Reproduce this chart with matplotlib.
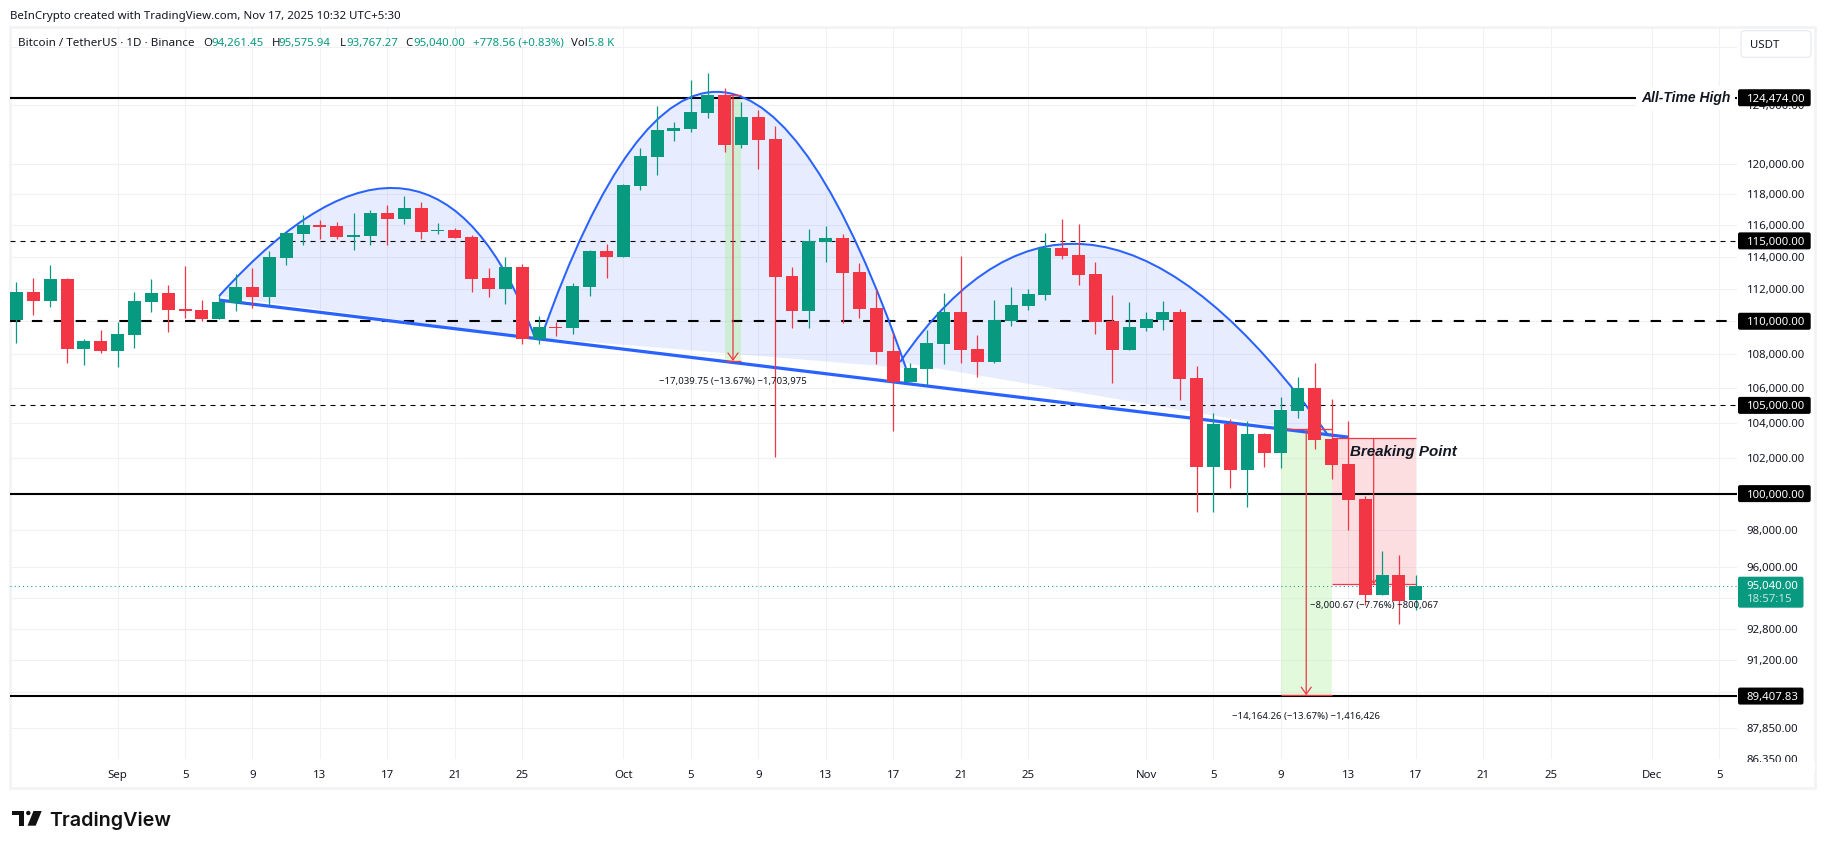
import numpy as np
import matplotlib
matplotlib.use('Agg')
import matplotlib.pyplot as plt
from matplotlib.patches import FancyBboxPatch, PathPatch, Polygon, Circle, Rectangle
from matplotlib.path import Path
from matplotlib.ticker import NullLocator
from matplotlib.transforms import IdentityTransform

plt.rcParams['font.family'] = ['Noto Sans', 'DejaVu Sans']

# days are counted from Sep 1, first candle is Aug 26
days = np.arange(-6, 78)
opens = [110076, 111793, 111255, 112600, 108325, 108803, 108205, 109162, 111174, 111731,
         110747, 110686, 110137, 111113, 112104, 111483, 113915, 115434, 116013, 115949,
         115244, 115307, 116786, 116400, 117109, 115625, 115689, 115244, 112662, 111979,
         113345, 108923, 109649, 109587, 112104, 114358, 113978, 118543, 120459, 122201,
         122337, 123427, 124660, 121262, 123132, 121663, 112786, 110625, 114928, 115181,
         113035, 110808, 108205, 106365, 107130, 108624, 110564, 108325, 107547, 110015,
         110930, 111607, 114547, 114104, 112911, 110015, 108265, 109587, 110076, 110564,
         106601, 101476, 103922, 101310, 103346, 102270, 104672, 106012, 103063, 101647,
         99697, 94543, 95595, 94261.45]
highs = [112414, 112683, 113470, 112683, 108923, 109465, 109954, 111793, 112600, 112228,
         113408, 111296, 111607, 112911, 113283, 114358, 115497, 116657, 116335, 116206,
         116786, 116980, 117302, 117887, 117495, 116142, 115816, 115370, 113283, 113978,
         113533, 110320, 109954, 112352, 114421, 114800, 118675, 121061, 123904, 122814,
         125701, 126187, 125146, 124177, 123632, 122542, 113345, 115755, 115949, 115434,
         113598, 111979, 109282, 107487, 109465, 111731, 114041, 109162, 111296, 112104,
         111979, 115497, 116400, 116077, 113661, 111607, 111174, 110564, 111235, 110747,
         107307, 104556, 104210, 104095, 103403, 105484, 106659, 107487, 105365, 104095,
         99864, 96874, 96660, 95575.94]
lows = [108704, 110380, 110869, 107507, 107387, 108105, 107267, 108404, 110564, 109343,
        110198, 110015, 110137, 110625, 110808, 110991, 113470, 114738, 115117, 115117,
        114421, 114738, 114738, 116077, 115117, 115434, 115181, 111793, 111483, 111052,
        108624, 108624, 109102, 109222, 111545, 112662, 113978, 118281, 119266, 121529,
        122133, 123086, 120822, 121061, 119660, 102043, 109587, 109587, 113661, 109892,
        110198, 107427, 103519, 106365, 106189, 107427, 107487, 106659, 107487, 109709,
        110686, 111296, 113851, 112228, 109222, 106306, 108265, 109404, 109465, 105306,
        98986, 98986, 100308, 99259, 101476, 101421, 104268, 102496, 100809, 98003,
        94022, 94543, 93040, 93767.27]
closes = [111793, 111255, 112600, 108325, 108803, 108205, 109222, 111235, 111731, 110686,
          110625, 110137, 111174, 112104, 111483, 113978, 115497, 116013, 115884, 115244,
          115370, 116786, 116400, 117109, 115561, 115689, 115181, 112600, 111979, 113345,
          108923, 109649, 109587, 112166, 114358, 113978, 118609, 120526, 122269, 122405,
          123495, 124660, 121262, 123132, 121596, 112724, 110625, 114991, 115181, 112973,
          110747, 108145, 106365, 107189, 108684, 110564, 108265, 107547, 110076, 110991,
          111669, 114547, 114041, 112849, 109954, 108265, 109649, 110137, 110564, 106542,
          101476, 103922, 101310, 103346, 102270, 104729, 106012, 103006, 101590, 99641,
          94543, 95595, 94228, 95040.00]

# level lines
ath_level = 124474.00
level_115 = 115000.00
level_110 = 110000.00
level_105 = 105000.00
level_100 = 100000.00
level_target = 89407.83
last_price = 95040.00

# quadratic curves of the pattern: (day, price) for start, control, end
curve_left = [(6.02, 111545), (18.65, 127060), (24.76, 108982)]
curve_head = [(25.11, 108982), (35.73, 144256), (46.76, 107189)]
curve_right = [(46.41, 107547), (57.32, 124777), (71.79, 103288)]
neckline_days = [6.02, 72.98]
neckline_prices = [111296, 103174]

# price range tools: start day, end day, top, bottom, label
box_green1 = (36, 37, 124650, 107610, '\u221217,039.75 (\u221213.67%) \u22121,703,975')
box_green2 = (69, 72, 103616, 89452, '\u221214,164.26 (\u221213.67%) \u22121,416,426')
box_red = (72, 77, 103100, 95100, '\u22128,000.67 (\u22127.76%) \u2212800,067')

grid_prices = [128000, 124000, 120000, 118000, 116000, 114000, 112000, 110000, 108000,
               106000, 104000, 102000, 100000, 98000, 96000, 94400, 92800, 91200, 89600,
               87850, 86350]
hidden_prices = [128000, 110000, 100000, 94400, 89600]
tick_days = [0, 4, 8, 12, 16, 20, 24, 30, 34, 38, 42, 46, 50, 54, 61, 65, 69, 73, 77, 81, 85, 91, 95]
tick_names = ['Sep', '5', '9', '13', '17', '21', '25', 'Oct', '5', '9', '13', '17', '21', '25',
              'Nov', '5', '9', '13', '17', '21', '25', 'Dec', '5']

GREEN = '#089981'
RED = '#f23645'
BLUE = '#2962ff'
INK = '#131722'
W, H = 1825, 849


def draw_text(x, y, s, color=INK, size=8.2, **kw):
    return fig.text(x / W, 1 - y / H, s, color=color, fontsize=size, va='center_baseline', zorder=8, **kw)


def draw_curve(points):
    verts = points + [points[0]]
    fill = Path(verts, [Path.MOVETO, Path.CURVE3, Path.CURVE3, Path.CLOSEPOLY])
    ax.add_patch(PathPatch(fill, facecolor=BLUE, alpha=0.11, edgecolor='none', zorder=1))
    stroke = Path(points, [Path.MOVETO, Path.CURVE3, Path.CURVE3])
    ax.add_patch(PathPatch(stroke, facecolor='none', edgecolor=BLUE, lw=1.45, zorder=2))


def draw_box(box, color, alpha):
    d0, d1, top, bottom, text = box
    mid = (d0 + d1) / 2
    ax.fill_between([d0, d1], top, bottom, color=color, alpha=alpha, lw=0, zorder=1.2)
    ax.hlines([top, bottom], d0, d1, color=RED, lw=0.9, zorder=2.5)
    ax.annotate('', xy=(mid, bottom), xytext=(mid, top), zorder=2.6,
                arrowprops=dict(arrowstyle='->,head_width=0.36,head_length=0.5', color=RED,
                                lw=0.9, shrinkA=0, shrinkB=0))
    ax.annotate(text, xy=(mid, bottom), xytext=(0, -15), textcoords='offset points',
                ha='center', va='center', fontsize=6.9, color=INK, zorder=6)


def draw_badge(price, text, width):
    y = ax.transData.transform((0, price))[1]
    fig.add_artist(FancyBboxPatch((1738, y - 8.5), width, 17, boxstyle='round,pad=0,rounding_size=2',
                                  fc='black', ec='none', transform=IdentityTransform(), zorder=5))
    fig.text(1746.5 / W, y / H, text, color='white', fontsize=8.2, fontweight='medium',
             va='center_baseline', zorder=8)


fig = plt.figure(figsize=(W / 100, H / 100), dpi=100, facecolor='white')
fig.add_artist(Rectangle((10 / W, 1 - 788 / H), 1805 / W, 761 / H, fc='none', ec='#f2f3f5', lw=2,
                         transform=fig.transFigure, zorder=0))
ax = fig.add_axes([10 / W, 1 - 759 / H, 1727 / W, 731 / H])
ax.patch.set_alpha(0)
ax.set_yscale('log')
ax.set_ylim(86350, 129367)
ax.set_xlim(-6.382, 96.05)
for s in ax.spines.values():
    s.set_visible(False)

ax.yaxis.tick_right()
ax.yaxis.set_minor_locator(NullLocator())
ax.set_yticks(grid_prices)
ax.set_yticklabels(['' if p in hidden_prices else f'{p:,.2f}' for p in grid_prices])
ax.set_xticks(tick_days)
ax.set_xticklabels(tick_names)
ax.tick_params(axis='both', length=0, labelsize=8.2, labelcolor=INK)
ax.tick_params(axis='y', pad=7)
ax.tick_params(axis='x', pad=8)
ax.grid(color='#f0f1f5', lw=0.75)
ax.set_axisbelow(True)

draw_curve(curve_left)
draw_curve(curve_head)
draw_curve(curve_right)
ax.plot(neckline_days, neckline_prices, color=BLUE, lw=2.3, zorder=2, solid_capstyle='butt')

draw_box(box_green1, '#a6ee94', 0.4)
draw_box(box_green2, '#bff5b0', 0.45)
draw_box(box_red, RED, 0.16)

ax.axhline(ath_level, color='black', lw=1.5, zorder=1.5)
ax.axhline(level_100, color='black', lw=1.5, zorder=1.5)
ax.axhline(level_target, color='black', lw=1.5, zorder=1.5)
ax.axhline(level_115, color='black', lw=0.8, ls=(0, (4.5, 4.5)), zorder=1.5)
ax.axhline(level_105, color='black', lw=0.8, ls=(0, (4.5, 4.5)), zorder=1.5)
ax.axhline(level_110, color='black', lw=1.5, ls=(0, (5, 5.5)), zorder=1.5)
ax.axhline(last_price, color=GREEN, lw=0.75, ls=(0, (1, 3)), zorder=1.5)

# candles
opens, highs, lows, closes = map(np.array, (opens, highs, lows, closes))
colors = [GREEN if c >= o else RED for o, c in zip(opens, closes)]
ax.vlines(days, lows, highs, colors=colors, lw=0.9, zorder=3)
ax.bar(days, np.abs(closes - opens), bottom=np.minimum(opens, closes), width=0.77,
       color=colors, lw=0, zorder=3.1)

ax.text(73.1, 102350, 'Breaking Point', fontsize=10.9, fontweight='bold', style='italic',
        family='Liberation Sans', color=INK, ha='left', va='center', zorder=6)
ax.text(0.9703, ath_level, 'All-Time High', transform=ax.get_yaxis_transform(), fontsize=10,
        fontweight='bold', style='italic', family='Liberation Sans', color=INK, ha='center',
        va='center', zorder=6, bbox=dict(fc='white', ec='none', pad=3.5))

# right axis badges
for price, text, width in [(ath_level, '124,474.00', 72.7), (level_115, '115,000.00', 72.7),
                           (level_110, '110,000.00', 72.7), (level_105, '105,000.00', 72.7),
                           (level_100, '100,000.00', 72.7), (level_target, '89,407.83', 65.5)]:
    draw_badge(price, text, width)
fig.add_artist(FancyBboxPatch((1738, H - 607.7), 65.5, 31, boxstyle='round,pad=0,rounding_size=2',
                              fc=GREEN, ec='none', transform=IdentityTransform(), zorder=5))
draw_text(1746.5, 585, '95,040.00', color='white', fontweight='medium')
draw_text(1746.5, 598, '18:57:15', color='#c4e6df')
fig.add_artist(FancyBboxPatch((1741, H - 57.3), 70, 26.6, boxstyle='round,pad=0,rounding_size=4',
                              fc='white', ec='#e8eaf0', lw=0.9, transform=IdentityTransform(), zorder=5))
draw_text(1750, 44.5, 'USDT')
# the lowest price label is cut by the time axis
fig.add_artist(Rectangle((1738, H - 772), 77, 10, fc='white', ec='none', transform=IdentityTransform(), zorder=4))

# header texts
draw_text(9.8, 14.7, 'BeInCrypto created with TradingView.com, Nov 17, 2025 10:32 UTC+5:30', size=8.25)
draw_text(18.4, 41.7, 'Bitcoin / TetherUS \u00b7 1D \u00b7 Binance', size=8.4)
for x, s in [(203.7, 'O'), (271.4, 'H'), (339.6, 'L'), (405.7, 'C'), (571.4, 'Vol')]:
    draw_text(x, 41.7, s)
for x, s in [(211, '94,261.45'), (278.8, '95,575.94'), (346, '93,767.27'), (413, '95,040.00'),
             (472.7, '+778.56 (+0.83%)'), (587.8, '5.8 K')]:
    draw_text(x, 41.7, s, color=GREEN)

# logo
logo = IdentityTransform()
fig.add_artist(Polygon([(12.3, H - 811), (24, H - 811), (24, H - 825.7), (19, H - 825.7), (19, H - 815), (12.3, H - 815)],
                       fc='#111111', ec='none', transform=logo))
fig.add_artist(Circle((28.3, H - 813), 2.2, fc='#111111', ec='none', transform=logo))
fig.add_artist(Polygon([(33.5, H - 811), (41.7, H - 811), (35.7, H - 825.7), (27.5, H - 825.7)],
                       fc='#111111', ec='none', transform=logo))
draw_text(49.3, 819, 'TradingView', color='#111111', size=14.2, family='Inter', fontweight='semibold')

fig.savefig('out.png', dpi=100)
